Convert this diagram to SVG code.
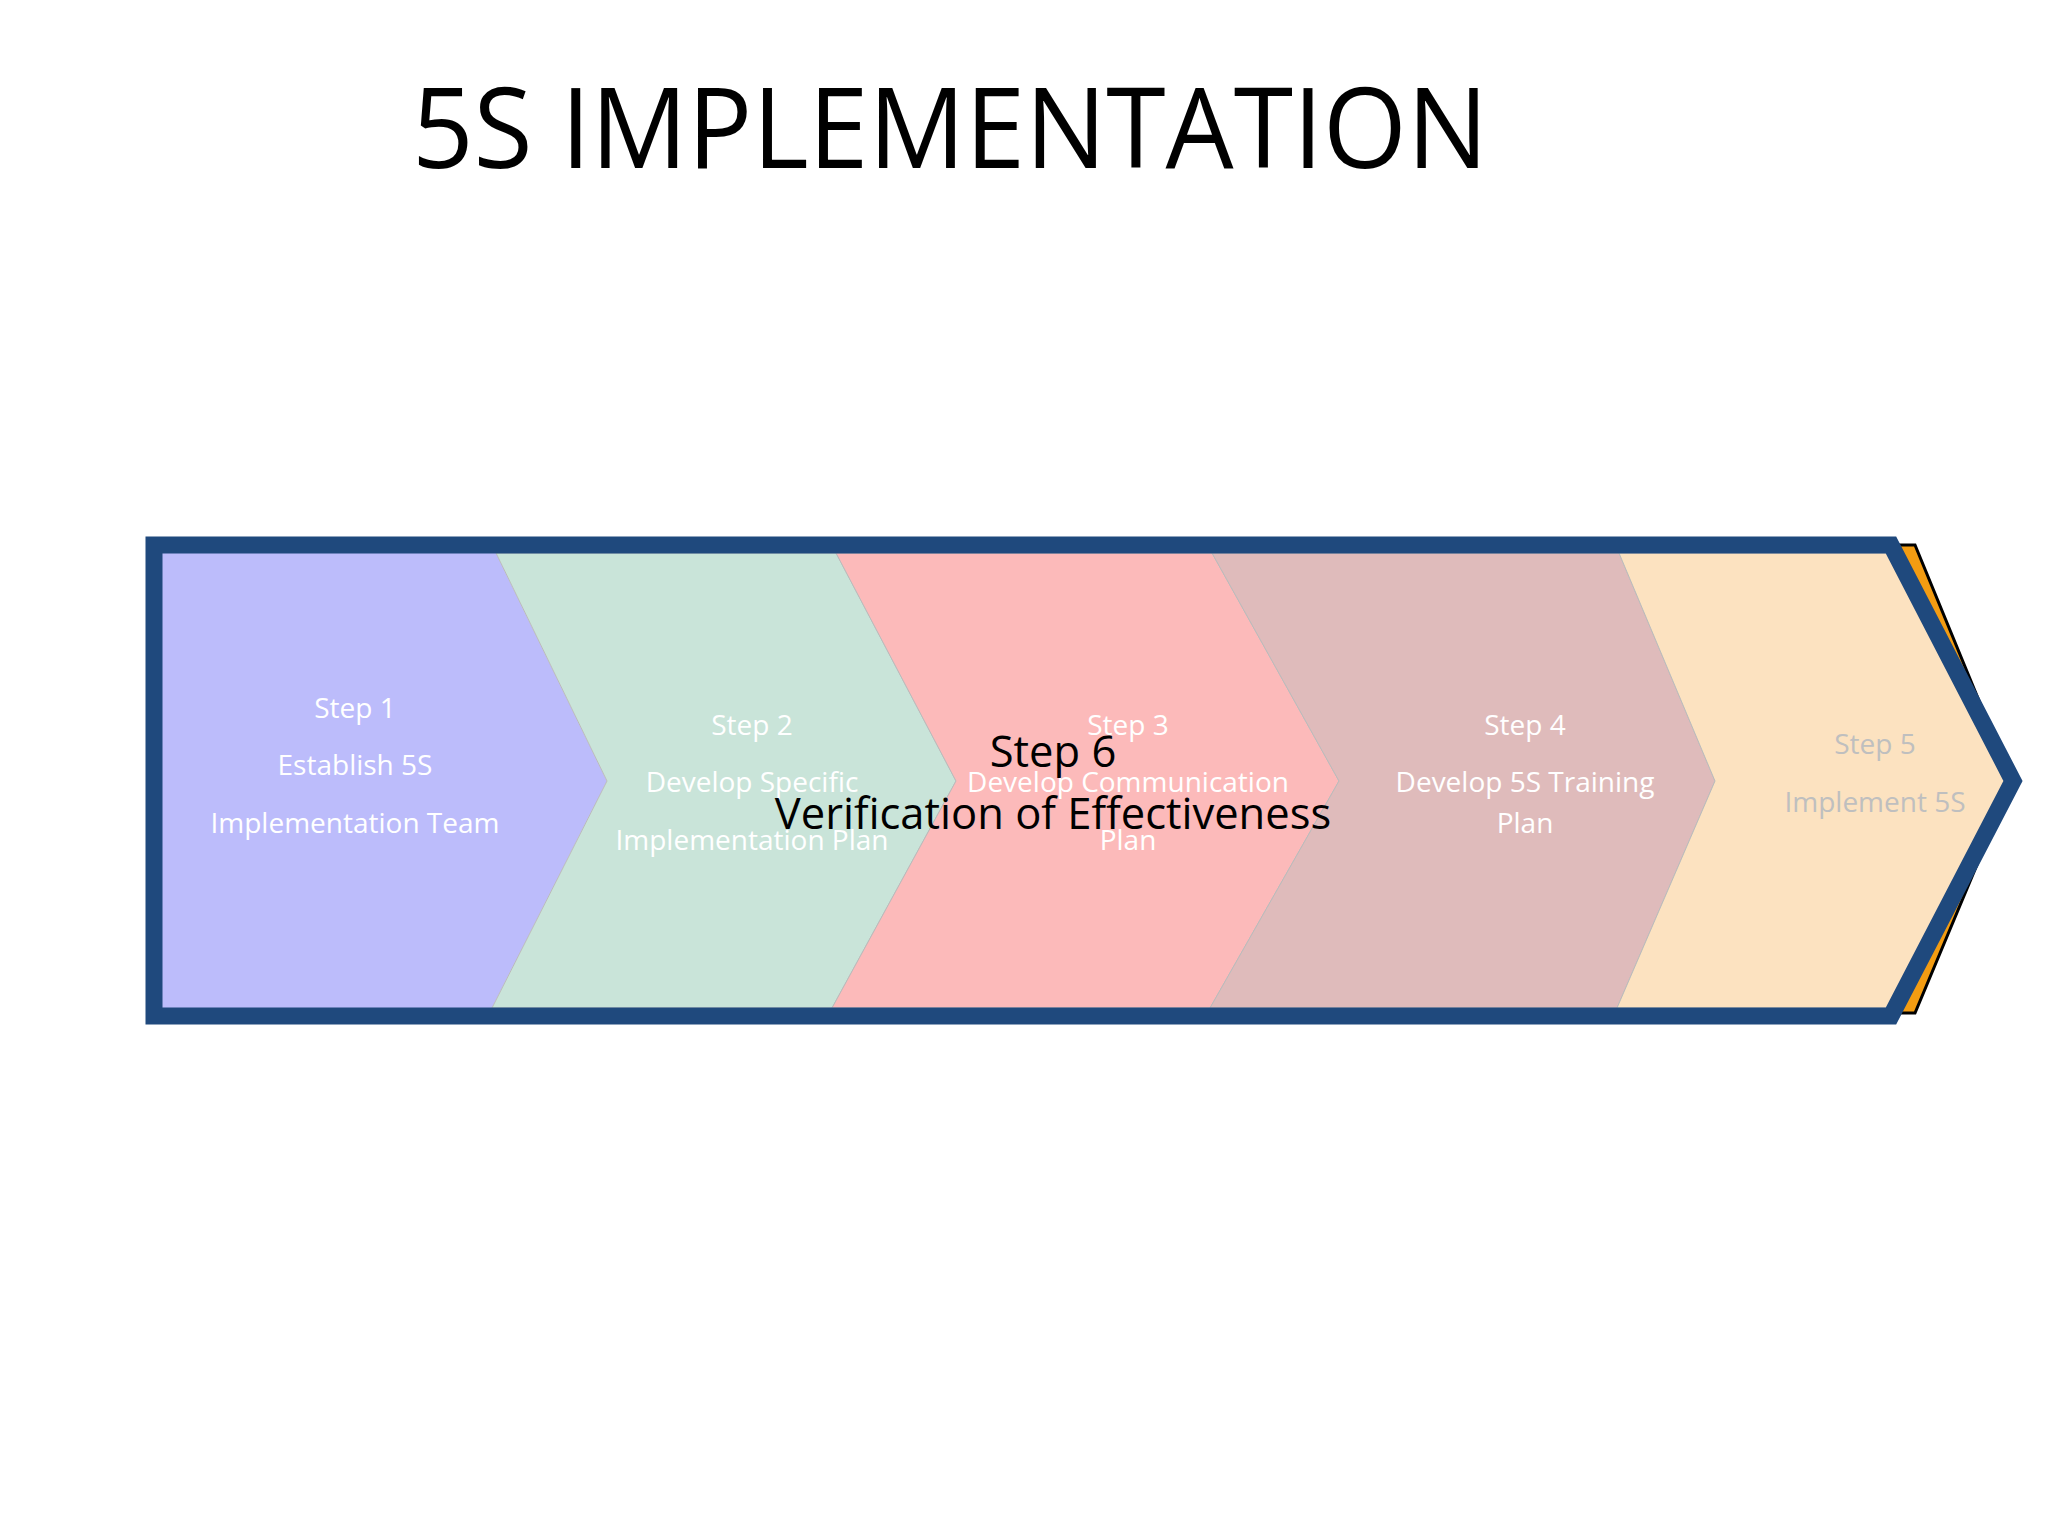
<svg xmlns="http://www.w3.org/2000/svg" width="2048" height="1536" viewBox="0 0 2048 1536">
<style>
.s{font-family:"Open Sans","Liberation Sans",sans-serif;font-size:28px;fill:#fff;text-anchor:middle}
.g{fill:#BFBFBF}
.b{font-family:"Open Sans","Liberation Sans",sans-serif;font-size:43.5px;fill:#000;text-anchor:middle}
</style>
<rect width="2048" height="1536" fill="#fff"/>
<text x="950" y="168" font-family="Open Sans, Liberation Sans, sans-serif" font-size="112" text-anchor="middle" textLength="1076" lengthAdjust="spacingAndGlyphs">5S IMPLEMENTATION</text>
<g id="back"><path d="M1880,545 L1915,545 L2012,781 L1915,1013 L1880,1013 Z" fill="#F39C12" stroke="#000" stroke-width="3"/></g>
<g id="step1"><path d="M154,553 L496,553 L607,781 L492,1008 L154,1008 Z" fill="#BCBCFB"/>
<text class="s" x="355" y="718">Step 1</text><text class="s" x="355" y="775">Establish  5S</text><text class="s" x="355" y="833">Implementation Team</text></g>
<g id="step2"><path d="M496,553 L836,553 L956,781 L832,1008 L492,1008 L607,781 Z" fill="#C9E4D9" stroke="#bbb" stroke-width="1"/>
<text class="s" x="752" y="735">Step 2</text><text class="s" x="752" y="792">Develop Specific</text><text class="s" x="752" y="850">Implementation Plan</text></g>
<g id="step3"><path d="M836,553 L1212,553 L1339,781 L1210,1008 L832,1008 L956,781 Z" fill="#FCBABA" stroke="#bbb" stroke-width="1"/>
<text class="s" x="1128" y="735">Step 3</text><text class="s" x="1128" y="792">Develop Communication</text><text class="s" x="1128" y="850">Plan</text></g>
<g id="step4"><path d="M1212,553 L1619,553 L1715,781 L1617,1008 L1210,1008 L1339,781 Z" fill="#DFBBBB" stroke="#bbb" stroke-width="1"/>
<text class="s" x="1525" y="735">Step 4</text><text class="s" x="1525" y="792">Develop 5S Training</text><text class="s" x="1525" y="833">Plan</text></g>
<g id="step5"><path d="M1619,553 L1891,553 L2013,781 L1891,1008 L1617,1008 L1715,781 Z" fill="#FCE2C0" stroke="#bbb" stroke-width="1"/>
<text class="s g" x="1875" y="754">Step 5</text><text class="s g" x="1875" y="812">Implement 5S</text></g>
<g id="step6"><path d="M154,545 L1891,545 L2013,781 L1891,1016 L154,1016 Z" fill="none" stroke="#1F497D" stroke-width="17"/>
<text class="b" x="1053" y="767">Step 6</text><text class="b" x="1053" y="829">Verification of Effectiveness</text></g>
<g id="connectors"/>
</svg>
